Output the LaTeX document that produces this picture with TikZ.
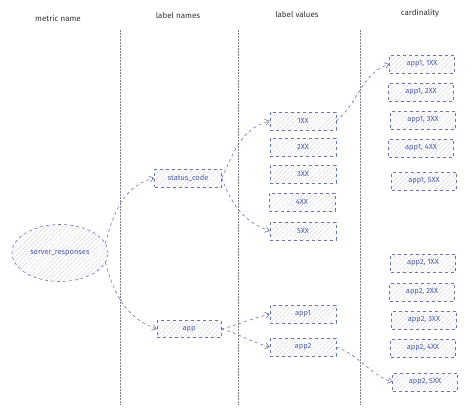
\documentclass[tikz,border=0pt]{standalone}
\usepackage{fontspec}
\setmainfont{Fira Sans}
\usepackage{tikz}
\usetikzlibrary{patterns.meta}
\usetikzlibrary{arrows.meta}
\usetikzlibrary{shapes.geometric}
\definecolor{inkblue}{HTML}{4F5BA6}
\definecolor{edgeblue}{HTML}{6B74AE}
\definecolor{hatch}{HTML}{D6D6DC}
\tikzstyle{colhead}=[font=\fontsize{8}{9}\selectfont, text=black!80]
\tikzstyle{sep}=[densely dotted, black!50, line width=0.5pt]
\tikzstyle{hbox}=[draw=edgeblue, dashed, line width=0.6pt, pattern={Lines[angle=45,distance=3.2pt,line width=0.45pt]}, pattern color=hatch, text=inkblue, font=\fontsize{7.5}{9}\selectfont, inner sep=0pt]
\tikzstyle{valbox}=[hbox, minimum width=66pt, minimum height=18pt]
\tikzstyle{cardbox}=[hbox, minimum width=65pt, minimum height=18pt]
\tikzstyle{link}=[draw=edgeblue, dashed, line width=0.6pt, -{Straight Barb[length=4pt,width=6pt]}]

\begin{document}
\begin{tikzpicture}
        [x=1pt,y=-1pt]
            \useasboundingbox (0,0) rectangle (474,412);
            % column headings
            \node [colhead] (hmetric) at (58,18) {metric name};
            \node [colhead] (hnames) at (178,16) {label names};
            \node [colhead] (hvalues) at (297,15) {label values};
            \node [colhead] (hcard) at (420,13) {cardinality};
            % column separators
            \draw [sep] (120,30) -- (120,404);
            \draw [sep] (238,30) -- (238,404);
            \draw [sep] (360,30) -- (360,404);
            % metric
            \node [hbox, ellipse, minimum width=96pt, minimum height=57pt] (srv) at (60,253) {server\_responses};
            % label names
            \node [hbox, minimum width=67pt, minimum height=18pt] (code) at (188,178) {status\_code};
            \node [hbox, minimum width=64pt, minimum height=17pt] (app) at (189,329) {app};
            % label values
            \node [valbox] (v1) at (303,121) {1XX};
            \node [valbox] (v2) at (303,147) {2XX};
            \node [valbox] (v3) at (303,174) {3XX};
            \node [valbox] (v4) at (302,202) {4XX};
            \node [valbox] (v5) at (303,231) {5XX};
            \node [valbox] (a1) at (303,314) {app1};
            \node [valbox] (a2) at (303,347) {app2};
            % cardinality
            \node [cardbox] (c11) at (422,64) {app1, 1XX};
            \node [cardbox] (c12) at (421,92) {app1, 2XX};
            \node [cardbox] (c13) at (423,120) {app1, 3XX};
            \node [cardbox] (c14) at (421,148) {app1, 4XX};
            \node [cardbox] (c15) at (424,181) {app1, 5XX};
            \node [cardbox] (c21) at (423,263) {app2, 1XX};
            \node [cardbox] (c22) at (422,292) {app2, 2XX};
            \node [cardbox] (c23) at (424,320) {app2, 3XX};
            \node [cardbox] (c24) at (423,348) {app2, 4XX};
            \node [cardbox] (c25) at (425,382) {app2, 5XX};
            % links
            \draw [link] (srv.12) to [out=75,in=195] (code.west);
            \draw [link] (srv.-12) to [out=-75,in=160] (app.west);
            \draw [link] (code.east) to [out=65,in=195] (v1.west);
            \draw [link] (code.east) to [out=-70,in=160] (v5.west);
            \draw [link] (app.east) to [out=15,in=195] (a1.west);
            \draw [link] (app.east) to [out=-15,in=165] (a2.west);
            \draw [link] (v1.east) to [out=40,in=200] (c11.west);
            \draw [link] (a2.east) to [out=-20,in=160] (c25.west);
        \end{tikzpicture}
\end{document}
